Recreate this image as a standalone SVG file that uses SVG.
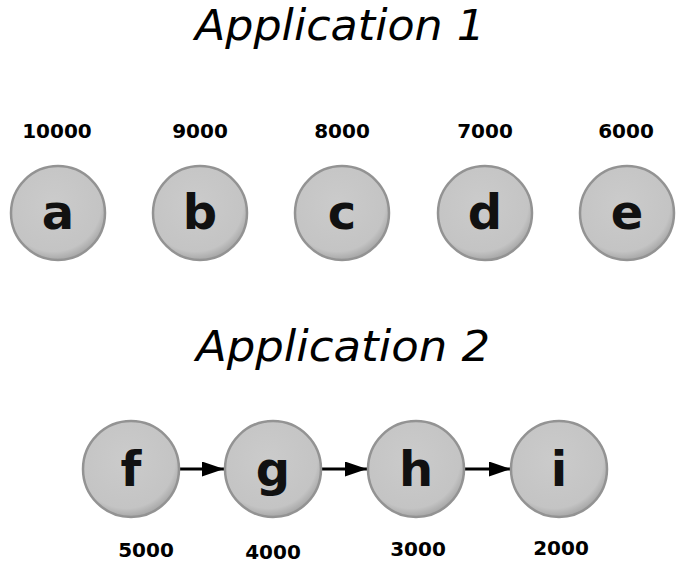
<svg xmlns="http://www.w3.org/2000/svg" width="685" height="566" viewBox="0 0 685 566">
<defs>
<radialGradient id="g" cx="0.45" cy="0.4" r="0.6">
<stop offset="0" stop-color="#cbcbcb"/>
<stop offset="0.85" stop-color="#c4c4c4"/>
<stop offset="1" stop-color="#a8a8a8"/>
</radialGradient>
<marker id="ah" markerWidth="22" markerHeight="15" refX="22" refY="7.5" orient="auto" markerUnits="userSpaceOnUse" viewBox="0 0 22 15">
<path d="M0,0 L22,7.5 L0,15 z" fill="#000"/>
</marker>
</defs>
<style>
.title{font-family:"DejaVu Sans",sans-serif;font-size:42px;font-style:oblique;fill:#000;text-anchor:middle}
.node circle{fill:url(#g);stroke:#939393;stroke-width:2.5}
.node text{font-family:"DejaVu Sans",sans-serif;font-weight:bold;font-size:48px;fill:#111;text-anchor:middle}
.num{font-family:"DejaVu Sans",sans-serif;font-weight:bold;font-size:20px;fill:#000;text-anchor:middle}
.edge{stroke:#000;stroke-width:3;fill:none;marker-end:url(#ah)}
</style>
<rect width="685" height="566" fill="#fff"/>
<text class="title" x="340" y="40" textLength="290" lengthAdjust="spacingAndGlyphs">Application 1</text>
<text class="title" x="343" y="361" textLength="294" lengthAdjust="spacingAndGlyphs">Application 2</text>

<text class="num" x="57" y="138">10000</text>
<text class="num" x="200" y="138">9000</text>
<text class="num" x="342" y="138">8000</text>
<text class="num" x="485" y="138">7000</text>
<text class="num" x="626" y="138">6000</text>

<g id="node-a" class="node"><circle cx="58" cy="213" r="47"/><text x="58" y="229">a</text></g>
<g id="node-b" class="node"><circle cx="200" cy="213" r="47"/><text x="200" y="229">b</text></g>
<g id="node-c" class="node"><circle cx="342" cy="213" r="47"/><text x="342" y="229">c</text></g>
<g id="node-d" class="node"><circle cx="485" cy="213" r="47"/><text x="485" y="229">d</text></g>
<g id="node-e" class="node"><circle cx="627" cy="213" r="47"/><text x="627" y="229">e</text></g>

<g id="connectors">
<line class="edge" x1="180" y1="469" x2="224" y2="469"/>
<line class="edge" x1="322" y1="469" x2="367" y2="469"/>
<line class="edge" x1="465" y1="469" x2="511" y2="469"/>
</g>

<g id="node-f" class="node"><circle cx="131" cy="469" r="48"/><text x="131" y="486">f</text></g>
<g id="node-g" class="node"><circle cx="273" cy="469" r="48"/><text x="273" y="486">g</text></g>
<g id="node-h" class="node"><circle cx="416" cy="469" r="48"/><text x="416" y="486">h</text></g>
<g id="node-i" class="node"><circle cx="559" cy="469" r="48"/><text x="559" y="486">i</text></g>

<text class="num" x="146" y="557">5000</text>
<text class="num" x="273" y="559">4000</text>
<text class="num" x="418" y="556">3000</text>
<text class="num" x="561" y="555">2000</text>
</svg>
